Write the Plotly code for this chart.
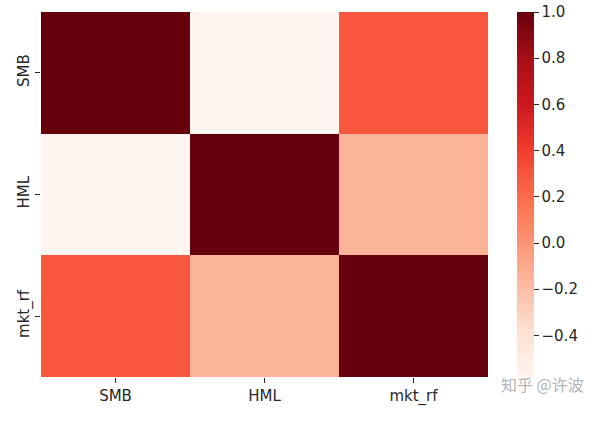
import plotly.graph_objects as go

factors = ["SMB", "HML", "mkt_rf"]
corr_smb = [1.0, -0.58, 0.29]
corr_hml = [-0.58, 1.0, -0.15]
corr_mkt = [0.29, -0.15, 1.0]
cbar_ticks = [-0.4, -0.2, 0.0, 0.2, 0.4, 0.6, 0.8, 1.0]

reds = ["#fff5f0", "#fee0d2", "#fcbba1", "#fc9272", "#fb6a4a",
        "#ef3b2c", "#cb181d", "#a50f15", "#67000d"]
colorscale = [[i / (len(reds) - 1), c] for i, c in enumerate(reds)]

z = [corr_smb, corr_hml, corr_mkt]

font = dict(family="DejaVu Sans", size=15, color="#262626")

fig = go.Figure(go.Heatmap(
    z=z, x=factors, y=factors,
    colorscale=colorscale,
    zmin=min(min(r) for r in z), zmax=1.0,
    xgap=0, ygap=0,
    colorbar=dict(
        x=(517 - 41) / 447, xanchor="left", xref="paper", xpad=0,
        y=0.5, yanchor="middle", len=1.0, lenmode="fraction", ypad=0,
        thickness=17, outlinewidth=0,
        tickvals=cbar_ticks, tickformat=".1f",
        ticks="outside", ticklen=5, tickwidth=1, tickcolor="#262626",
        tickfont=font,
    ),
    hoverongaps=False,
))

fig.update_layout(
    width=600, height=421,
    margin=dict(l=41, r=112, t=12, b=44),
    paper_bgcolor="white", plot_bgcolor="white",
    font=font,
    xaxis=dict(showgrid=False, zeroline=False, ticks="outside", ticklen=5,
               tickcolor="#262626", tickfont=font, showline=False),
    yaxis=dict(showgrid=False, zeroline=False, ticks="outside", ticklen=5,
               tickcolor="#262626", tickfont=font, showline=False,
               autorange="reversed", tickangle=-90),
    annotations=[dict(
        text="知乎 @许波", xref="paper", yref="paper",
        x=(542 - 41) / 447, y=(421 - 44 - 384) / 365,
        xanchor="center", yanchor="middle",
        showarrow=False, font=dict(family="Noto Sans CJK SC", size=16, color="#b4b4b4"),
    )],
)

fig.write_html("out.html", config={"displayModeBar": False},
               post_script="document.body.style.margin='0';document.body.style.overflow='hidden';")
